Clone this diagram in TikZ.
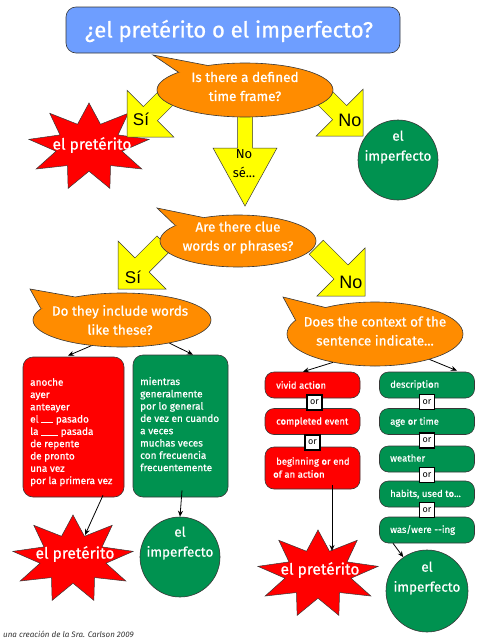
\documentclass[tikz,border=0pt]{standalone}
\usepackage{fontspec}
\setmainfont{Fira Sans}
\newfontfamily\wf{Fira Sans}[FakeBold=0.7]
\newfontfamily\labfont{Liberation Sans}
\usetikzlibrary{calc,shapes.geometric,arrows.meta}
\definecolor{tblue}{RGB}{110,158,255}
\definecolor{borange}{RGB}{255,140,0}
\definecolor{ayellow}{RGB}{255,255,0}
\definecolor{sred}{RGB}{255,0,0}
\definecolor{sgreen}{RGB}{0,146,80}
\definecolor{outc}{RGB}{55,55,55}
\newcommand\yelarrow[7]{%
  \begin{scope}[shift={(#1,#2)},rotate=#3]
    \filldraw[fill=ayellow,draw=outc,line width=0.5pt] (0,0) -- (-#4,#5) -- (-#4,#6) -- (-#7,#6) -- (-#7,-#6) -- (-#4,-#6) -- (-#4,-#5) -- cycle;
  \end{scope}}
\newcommand\burst[2]{%
  \filldraw[fill=sred,draw=outc,line width=0.5pt] ({#1},{#2-44})
   \foreach \k in {0,...,8} { -- ({#1+33.5*cos(110+40*\k)},{#2-24.2*sin(110+40*\k)}) -- ({#1+61*cos(130+40*\k)},{#2-44*sin(130+40*\k)}) } -- cycle;}
\newcommand\bubtail[4]{%
  \fill[borange] (#1.#3) -- (#2) -- (#1.#4) -- ($(#1.#3)!0.5!(#1.#4)!0.35!(#1.center)$) -- cycle;
  \draw[outc,line width=0.6pt] (#1.#3) -- (#2) -- (#1.#4);}
\begin{document}
\begin{tikzpicture}[x=1pt,y=-1pt,
  outl/.style={draw=outc,line width=0.6pt},
  wtxt/.style={text=white,inner sep=0pt,align=center},
  bub/.style={ellipse,fill=borange,outl,inner sep=0pt},
  qtxt/.style={wtxt,font=\wf\fontsize{13.5}{19}\selectfont},
  pill/.style={rounded corners=9pt,outl,inner sep=0pt,minimum height=26pt,minimum width=95pt},
  ptxt/.style={anchor=west,text=white,inner sep=0pt,font=\wf\fontsize{9.5}{11}\selectfont},
  btxt/.style={anchor=north west,text=white,inner sep=0pt,align=left,font=\wf\fontsize{10}{12.3}\selectfont},
  orbox/.style={draw=black,line width=1.1pt,fill=white,minimum size=15pt,inner sep=0pt,font=\fontsize{9}{9}\selectfont},
  stxt/.style={wtxt,font=\wf\fontsize{15.5}{15}\selectfont},
  ctxt/.style={wtxt,font=\wf\fontsize{13.5}{20}\selectfont},
  lab/.style={inner sep=0pt,font=\labfont\fontsize{17}{17}\selectfont},
  conn/.style={-{Stealth[length=6pt,width=5pt]},line width=0.8pt,black},
  ]
\useasboundingbox (0,0) rectangle (494,640);
\fill[white] (0,0) rectangle (494,640);

% title
\node[fill=tblue,outl,rounded corners=10pt,minimum width=334pt,minimum height=46pt,inner sep=0pt] (title) at (233,30) {};
\node[wtxt,font=\wf\fontsize{22}{24}\selectfont] (titlet) at (229,31) {¿el pretérito o el imperfecto?};

% first level outcomes
\burst{89}{147}
\coordinate (s1) at (89,147);
\node[circle,fill=sgreen,outl,minimum size=80pt,inner sep=0pt] (c1) at (398,160) {};

% second level outcomes
\burst{73}{559}
\coordinate (s2) at (73,559);
\burst{318}{574}
\coordinate (s3) at (318,574);
\node[circle,fill=sgreen,outl,minimum size=80pt,inner sep=0pt] (c2) at (180,557) {};
\node[circle,fill=sgreen,outl,minimum size=82pt,inner sep=0pt] (c3) at (427,591) {};

% yellow arrows
\yelarrow{127}{137}{225}{33}{33}{10}{70}
\yelarrow{363}{136}{315}{33}{33}{10}{70}
\yelarrow{245}{206}{270}{58}{32}{7.5}{106}
\yelarrow{118}{289}{225}{34}{34}{10}{65}
\yelarrow{365}{296}{315}{34}{34}{10}{69}

% bubbles
\node[bub,minimum width=176pt,minimum height=54pt] (q1) at (245,90) {};
\bubtail{q1}{153,55}{165}{147}
\node[qtxt] (q1t) at (245,86.5) {Is there a defined\\time frame?};

\node[bub,minimum width=156pt,minimum height=52pt] (q2) at (238,241) {};
\bubtail{q2}{157,208}{166}{146}
\node[qtxt] (q2t) at (238,237.5) {Are there clue\\words or phrases?};

\node[bub,minimum width=178pt,minimum height=54pt] (q3) at (122,320) {};
\bubtail{q3}{30,289}{172}{154}
\node[qtxt] (q3t) at (120,320) {Do they include words\\like these?};

\node[bub,minimum width=176pt,minimum height=64pt] (q4) at (375,334) {};
\bubtail{q4}{283,297}{170}{152}
\node[qtxt] (q4t) at (375,331) {Does the context of the\\sentence indicate...};

% arrow labels
\node[lab] (l1) at (141,119) {Sí};
\node[lab,font=\labfont\fontsize{18}{18}\selectfont] (l2) at (350,120) {No};
\node[inner sep=0pt,align=center,font=\fontsize{13}{19}\selectfont] (l3) at (244,163.5) {No\\sé...};
\node[lab] (l4) at (133,277) {Sí};
\node[lab,font=\labfont\fontsize{18}{18}\selectfont] (l5) at (351,282) {No};

% outcome texts (top)
\node[stxt] (s1t) at (92,145) {el pretérito};
\node[ctxt] (c1t) at (398,147) {el\\imperfecto};

% word boxes
\node[fill=sred,outl,rounded corners=10pt,minimum width=101pt,minimum height=140pt,inner sep=0pt] (rbox) at (73.5,427) {};
\node[btxt] (rboxt) at (30,378) {anoche\\ayer\\anteayer\\el \rule[-0.5pt]{12pt}{0.8pt} pasado\\la \rule[-0.5pt]{17pt}{0.8pt} pasada\\de repente\\de pronto\\una vez\\por la primera vez};
\node[fill=sgreen,outl,rounded corners=10pt,minimum width=95pt,minimum height=142pt,inner sep=0pt] (gbox) at (180.5,426) {};
\node[btxt] (gboxt) at (140,377) {mientras\\generalmente\\por lo general\\de vez en cuando\\a veces\\muchas veces\\con frecuencia\\frecuentemente};

% context pills
\node[pill,fill=sred] (r1) at (312.5,385) {};
\node[pill,fill=sred] (r2) at (312.5,421.5) {};
\node[pill,fill=sred,minimum height=42pt] (r3) at (312.5,468) {};
\node[ptxt] (r1t) at (276,385) {vivid action};
\node[ptxt] (r2t) at (276,422) {completed event};
\node[ptxt] (r3a) at (276,462) {beginning or end};
\node[ptxt] (r3b) at (273,474) {of an action};
\node[pill,fill=sgreen] (g1) at (427,385) {};
\node[pill,fill=sgreen] (g2) at (427,421.5) {};
\node[pill,fill=sgreen] (g3) at (427,459) {};
\node[pill,fill=sgreen] (g4) at (427,494) {};
\node[pill,fill=sgreen] (g5) at (427,530) {};
\node[ptxt] (g1t) at (390,385) {description};
\node[ptxt] (g2t) at (390,422) {age or time};
\node[ptxt] (g3t) at (390,458) {weather};
\node[ptxt] (g4t) at (390,494) {habits, used to...};
\node[ptxt] (g5t) at (390,530) {was/were {-}{-}ing};
\node[orbox] (o1) at (314.5,402.5) {or};
\node[orbox] (o2) at (312.5,442.5) {or};
\node[orbox] (og1) at (427,402) {or};
\node[orbox] (og2) at (427,440.5) {or};
\node[orbox] (og3) at (427,475) {or};
\node[orbox] (og4) at (427,510) {or};

% outcome texts (bottom)
\node[stxt] (s2t) at (75,554) {el pretérito};
\node[stxt] (s3t) at (320,570) {el pretérito};
\node[ctxt] (c2t) at (180,543) {el\\imperfecto};
\node[ctxt] (c3t) at (427,578) {el\\imperfecto};

% connectors
\draw[conn] (q3.220) -- ($(rbox.north)+(-5.5,-1)$);
\draw[conn] (q3.-26) -- ($(gbox.north)+(12.5,0)$);
\draw[conn] ($(rbox.south)+(29.5,-2)$) -- ($(s2)+(12,-24)$);
\draw[conn] ($(gbox.south)+(1.5,-7)$) -- (c2.north);
\draw[conn] (q4.214) -- ($(r1.north)+(-9.5,0)$);
\draw[conn] (q4.-25) -- ($(g1.north)+(30,-1)$);
\draw[conn] ($(r3.south)+(19.5,-4)$) -- ($(s3)+(14,-23)$);
\draw[conn] ($(g5.south)+(-34,0)$) -- (c3.125);

% footer
\node[anchor=west,inner sep=0pt,font=\itshape\fontsize{8}{8}\selectfont,text=black!80] (foot) at (3,634) {una creación de la Sra. Carlson 2009};
\end{tikzpicture}
\end{document}
